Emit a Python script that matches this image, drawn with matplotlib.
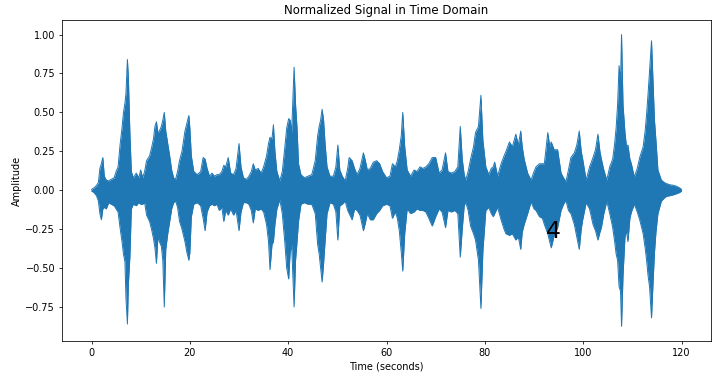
import numpy as np
import matplotlib
matplotlib.use("Agg")
import matplotlib.pyplot as plt

# envelope of the normalized signal (seconds, upper, lower)
time_s = [
    0.0, 0.5, 1.0, 1.4, 1.7, 2.0, 2.3, 2.6, 3.0, 3.5, 4.0, 4.6, 5.0, 5.4, 5.8, 6.2, 6.5, 6.8, 7.0, 7.3,
    7.5, 7.8, 8.1, 8.5, 9.1, 9.6, 10.0, 10.4, 10.8, 11.2, 11.8, 12.2, 12.6, 12.9, 13.2, 13.5, 13.8, 14.2, 14.5, 14.8,
    15.1, 15.5, 15.9, 16.3, 16.7, 17.1, 17.5, 17.9, 18.4, 19.0, 19.4, 19.8, 20.0, 20.3, 20.8, 21.5, 22.2, 22.7, 23.1, 23.5,
    24.0, 24.5, 25.0, 25.5, 26.0, 26.5, 26.9, 27.3, 27.8, 28.3, 28.9, 29.4, 30.0, 30.4, 30.9, 31.5, 32.0, 32.5, 32.9, 33.3,
    33.9, 34.5, 35.0, 35.6, 36.0, 36.3, 36.7, 37.0, 37.3, 37.7, 38.3, 38.8, 39.3, 39.7, 40.1, 40.4, 40.7, 41.0, 41.2, 41.5,
    41.8, 42.1, 42.6, 43.3, 44.0, 44.8, 45.5, 46.0, 46.3, 46.6, 46.9, 47.2, 47.5, 47.9, 48.5, 49.2, 49.7, 50.1, 50.5, 51.0,
    51.6, 52.1, 52.4, 53.0, 53.5, 54.0, 54.6, 55.3, 55.7, 56.1, 56.7, 57.3, 58.0, 58.6, 59.2, 60.0, 60.7, 61.2, 61.8, 62.2,
    62.6, 63.0, 63.3, 63.7, 64.2, 64.9, 65.6, 66.2, 66.8, 67.4, 68.0, 68.6, 69.3, 70.0, 70.7, 71.3, 72.0, 72.5, 73.2, 73.9,
    74.5, 75.0, 75.4, 75.8, 76.1, 76.6, 77.1, 77.7, 78.1, 78.7, 79.2, 79.6, 80.2, 80.8, 81.3, 81.7, 82.0, 82.6, 83.3, 83.9,
    84.3, 85.0, 85.6, 86.3, 86.8, 87.3, 87.6, 88.0, 88.7, 89.4, 90.0, 90.4, 91.1, 91.7, 92.1, 92.8, 93.2, 93.5, 94.1, 94.8,
    95.5, 96.0, 96.5, 97.0, 97.5, 98.2, 98.7, 99.2, 99.6, 99.9, 100.6, 101.3, 102.0, 102.5, 103.0, 103.4, 103.7, 104.2, 104.8, 105.4,
    106.0, 106.4, 106.7, 107.0, 107.3, 107.6, 107.8, 108.1, 108.5, 108.8, 109.1, 109.5, 109.8, 110.4, 111.0, 111.5, 112.2, 112.6, 112.9, 113.2,
    113.5, 113.9, 114.2, 114.5, 114.8, 115.2, 115.9, 116.5, 116.9, 117.6, 118.3, 119.0, 119.6, 120.0,
]
upper = [
    0.005, 0.015, 0.03, 0.05, 0.14, 0.17, 0.21, 0.09, 0.065, 0.06, 0.07, 0.08, 0.12, 0.15, 0.29, 0.40, 0.50, 0.56, 0.62, 0.84,
    0.72, 0.37, 0.12, 0.08, 0.11, 0.08, 0.13, 0.08, 0.12, 0.19, 0.22, 0.27, 0.33, 0.41, 0.44, 0.37, 0.38, 0.41, 0.45, 0.50,
    0.38, 0.30, 0.22, 0.13, 0.08, 0.07, 0.12, 0.19, 0.25, 0.38, 0.43, 0.48, 0.40, 0.22, 0.12, 0.10, 0.12, 0.21, 0.20, 0.14,
    0.09, 0.11, 0.09, 0.10, 0.10, 0.12, 0.16, 0.15, 0.21, 0.11, 0.10, 0.14, 0.30, 0.15, 0.08, 0.07, 0.09, 0.12, 0.17, 0.13,
    0.14, 0.11, 0.15, 0.22, 0.30, 0.34, 0.33, 0.42, 0.25, 0.12, 0.06, 0.12, 0.27, 0.40, 0.46, 0.45, 0.37, 0.62, 0.79, 0.55,
    0.40, 0.17, 0.10, 0.08, 0.09, 0.10, 0.19, 0.35, 0.41, 0.45, 0.52, 0.45, 0.30, 0.15, 0.09, 0.09, 0.15, 0.29, 0.13, 0.09,
    0.06, 0.14, 0.21, 0.19, 0.14, 0.10, 0.14, 0.24, 0.19, 0.13, 0.14, 0.18, 0.19, 0.17, 0.12, 0.08, 0.09, 0.17, 0.15, 0.19,
    0.26, 0.35, 0.50, 0.28, 0.13, 0.09, 0.13, 0.12, 0.15, 0.14, 0.15, 0.17, 0.21, 0.21, 0.11, 0.13, 0.24, 0.12, 0.11, 0.12,
    0.15, 0.41, 0.20, 0.10, 0.065, 0.12, 0.20, 0.28, 0.37, 0.41, 0.61, 0.32, 0.15, 0.10, 0.14, 0.15, 0.18, 0.09, 0.17, 0.22,
    0.25, 0.31, 0.28, 0.36, 0.29, 0.38, 0.28, 0.20, 0.11, 0.065, 0.12, 0.15, 0.17, 0.17, 0.17, 0.37, 0.28, 0.31, 0.26, 0.26,
    0.11, 0.08, 0.055, 0.13, 0.21, 0.24, 0.29, 0.38, 0.25, 0.20, 0.065, 0.15, 0.21, 0.26, 0.36, 0.25, 0.20, 0.13, 0.065, 0.15,
    0.20, 0.30, 0.40, 0.55, 0.80, 0.70, 1.00, 0.55, 0.37, 0.28, 0.29, 0.20, 0.17, 0.085, 0.14, 0.21, 0.28, 0.38, 0.49, 0.62,
    0.77, 0.96, 0.70, 0.45, 0.32, 0.13, 0.065, 0.05, 0.043, 0.035, 0.032, 0.025, 0.015, 0.005,
]
lower = [
    -0.005, -0.015, -0.035, -0.07, -0.15, -0.19, -0.12, -0.11, -0.12, -0.08, -0.09, -0.10, -0.12, -0.14, -0.24, -0.33, -0.41, -0.46, -0.69, -0.86,
    -0.60, -0.43, -0.12, -0.09, -0.10, -0.08, -0.09, -0.09, -0.08, -0.16, -0.20, -0.25, -0.31, -0.37, -0.47, -0.30, -0.33, -0.36, -0.45, -0.75,
    -0.38, -0.28, -0.20, -0.12, -0.08, -0.07, -0.11, -0.20, -0.25, -0.33, -0.40, -0.45, -0.40, -0.17, -0.09, -0.08, -0.10, -0.18, -0.26, -0.14,
    -0.10, -0.09, -0.10, -0.09, -0.13, -0.11, -0.20, -0.13, -0.16, -0.12, -0.16, -0.13, -0.26, -0.14, -0.08, -0.08, -0.09, -0.13, -0.21, -0.12,
    -0.13, -0.12, -0.14, -0.22, -0.33, -0.51, -0.35, -0.33, -0.22, -0.12, -0.06, -0.15, -0.33, -0.50, -0.57, -0.40, -0.35, -0.60, -0.75, -0.45,
    -0.33, -0.20, -0.09, -0.08, -0.09, -0.09, -0.15, -0.35, -0.41, -0.50, -0.59, -0.47, -0.33, -0.15, -0.08, -0.09, -0.14, -0.32, -0.10, -0.09,
    -0.07, -0.13, -0.15, -0.19, -0.12, -0.13, -0.16, -0.26, -0.21, -0.15, -0.19, -0.19, -0.15, -0.13, -0.10, -0.09, -0.10, -0.18, -0.14, -0.18,
    -0.26, -0.40, -0.52, -0.28, -0.12, -0.15, -0.14, -0.12, -0.13, -0.13, -0.14, -0.18, -0.23, -0.17, -0.12, -0.14, -0.24, -0.13, -0.14, -0.13,
    -0.15, -0.43, -0.25, -0.10, -0.075, -0.13, -0.23, -0.28, -0.32, -0.45, -0.76, -0.39, -0.13, -0.11, -0.15, -0.17, -0.15, -0.11, -0.19, -0.25,
    -0.28, -0.29, -0.28, -0.32, -0.30, -0.38, -0.27, -0.22, -0.15, -0.075, -0.12, -0.13, -0.17, -0.18, -0.22, -0.28, -0.33, -0.37, -0.29, -0.24,
    -0.13, -0.09, -0.065, -0.13, -0.15, -0.22, -0.30, -0.38, -0.25, -0.19, -0.08, -0.12, -0.22, -0.26, -0.32, -0.27, -0.24, -0.15, -0.07, -0.15,
    -0.24, -0.33, -0.41, -0.45, -0.62, -0.65, -0.875, -0.55, -0.30, -0.26, -0.33, -0.18, -0.14, -0.09, -0.14, -0.19, -0.28, -0.37, -0.45, -0.55,
    -0.62, -0.82, -0.60, -0.40, -0.27, -0.15, -0.07, -0.05, -0.04, -0.035, -0.03, -0.022, -0.015, -0.005,
]

t = np.array(time_s)
up = np.array(upper)
lo = np.array(lower)

DPI = 70.3
fig, ax = plt.subplots(figsize=(727 / DPI, 375 / DPI), dpi=DPI)
fig.subplots_adjust(left=0.0853, right=0.978, bottom=0.0907, top=0.9467)

ax.fill_between(t, lo, up, color='#1f77b4', lw=0)
ax.plot(t, up, color='#1f77b4', lw=1.0)
ax.plot(t, lo, color='#1f77b4', lw=1.0)

ax.text(93.9, -0.265, '4', fontsize=24, ha='center', va='center')

ax.set_title('Normalized Signal in Time Domain')
ax.set_xlabel('Time (seconds)')
ax.set_ylabel('Amplitude')

fig.savefig('out.png', dpi=DPI)
